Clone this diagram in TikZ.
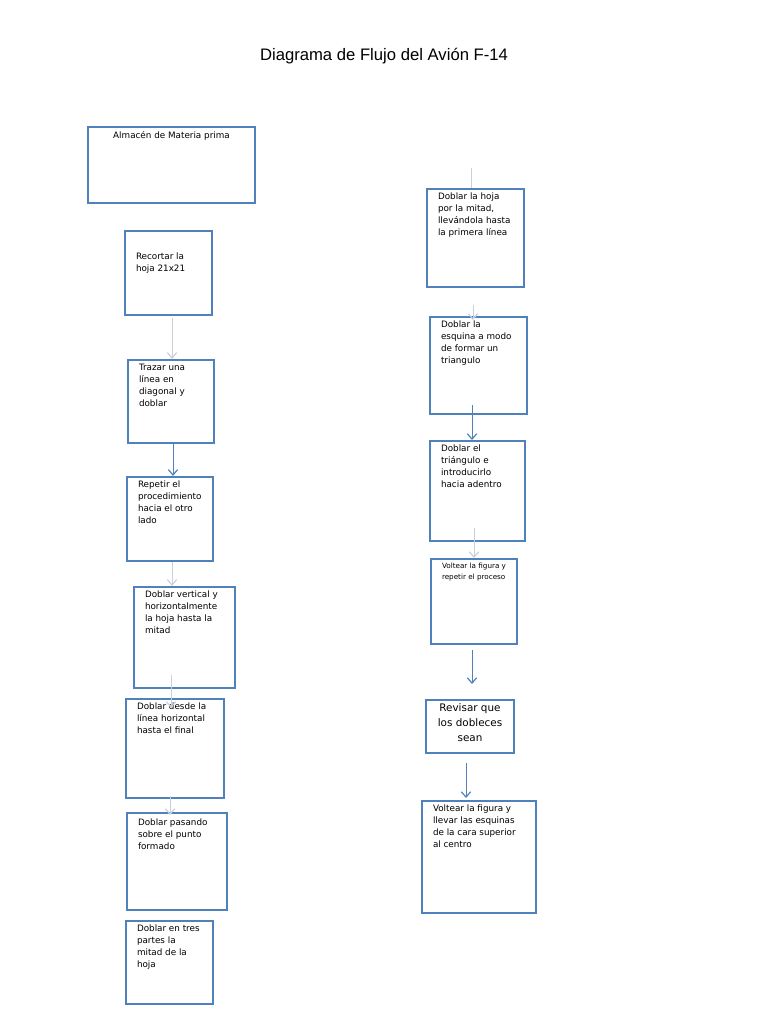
\documentclass[tikz,border=0pt]{standalone}
\usepackage{fontspec}
\setmainfont{DejaVu Sans}
\newfontfamily\titlefont{Liberation Sans}
\usetikzlibrary{arrows.meta}
\definecolor{boxblue}{HTML}{4F81BD}
\definecolor{linegray}{HTML}{C8D0DA}
\tikzset{
  box/.style={draw=boxblue, line width=1.7pt, inner sep=0pt, fill=white},
  arr/.style={draw=linegray, line width=0.6pt, -{Straight Barb[length=4pt,width=7pt,line width=0.9pt]}},
  arrb/.style={arr, draw=boxblue}
}
% name, x1, y1, x2, y2, top gap, text
\newcommand\flowbox[7]{%
  \pgfmathsetlengthmacro\bw{(#4-#2)*0.75pt}%
  \pgfmathsetlengthmacro\bh{(#5-#3)*0.75pt}%
  \pgfmathsetlengthmacro\btw{(#4-#2-22)*0.75pt}%
  \pgfmathsetlengthmacro\bth{(#5-#3-8)*0.75pt}%
  \node[box, minimum width=\bw, minimum height=\bh] (#1) at ({(#2+#4)/2},{(#3+#5)/2})
    {\parbox[c][\bth][t]{\btw}{\vspace*{#6}\raggedright\fontsize{6.6}{9}\selectfont #7}};%
}
\begin{document}
\begin{tikzpicture}[x=0.75pt,y=-0.75pt]
\useasboundingbox (0,0) rectangle (768,1024);
\node (title) at (384,56) {\titlefont\fontsize{12.5}{15}\selectfont Diagrama de Flujo del Avión F-14};

% left column
\flowbox{almacen}{88}{127}{255}{203}{0pt}{\centering Almacén de Materia prima}
\flowbox{recortar}{125}{231}{212}{315}{13pt}{Recortar la hoja 21x21}
\flowbox{trazar}{128}{360}{214}{443}{0pt}{Trazar una línea en diagonal y doblar}
\flowbox{repetir}{127}{477}{213}{561}{0pt}{Repetir el procedimiento hacia el otro lado}
\flowbox{vertical}{134}{587}{235}{688}{0pt}{Doblar vertical y horizontalmente la hoja hasta la mitad}
\flowbox{desde}{126}{699}{224}{798}{0pt}{Doblar desde la línea horizontal hasta el final}
\flowbox{pasando}{127}{813}{227}{910}{1pt}{Doblar pasando sobre el punto formado}
\flowbox{tres}{126}{921}{213}{1004}{0pt}{Doblar en tres partes la mitad de la hoja}

% right column
\flowbox{hoja}{427}{189}{524}{287}{0pt}{Doblar la hoja por la mitad, llevándola hasta la primera línea}
\flowbox{esquina}{430}{317}{527}{414}{0pt}{Doblar la esquina a modo de formar un triangulo}
\flowbox{triangulo}{430}{441}{525}{541}{0pt}{Doblar el triángulo e introducirlo hacia adentro}
\flowbox{voltear}{431}{559}{517}{644}{0pt}{\fontsize{5.4}{8}\selectfont Voltear la figura y repetir el proceso}
\flowbox{revisar}{426}{700}{514}{753}{0pt}{\centering\fontsize{7.8}{11}\selectfont Revisar que los dobleces sean}
\flowbox{llevar}{422}{801}{536}{913}{0pt}{Voltear la figura y llevar las esquinas de la cara superior al centro}

% connectors
\coordinate (c1) at (172,318);
\coordinate (c2) at (171,675);
\coordinate (c3) at (170,796);
\coordinate (c4) at (471,168);
\coordinate (c5) at (473,305);
\coordinate (c6) at (472,405);
\coordinate (c7) at (474,528);
\coordinate (c8) at (472,650);
\coordinate (c9) at (466,763);
\draw[arr] (c1) -- (c1 |- trazar.north);
\draw[arrb] (trazar.south -| 173,0) -- (repetir.north -| 173,0);
\draw[arr] (repetir.south -| 172,0) -- (vertical.north -| 172,0);
\draw[arr] (c2) -- (171,708);
\draw[arr] (c3) -- (170,815);
\draw[draw=linegray, line width=0.6pt] (c4) -- (hoja.north -| c4);
\draw[arr] (c5) -- (473,320);
\draw[arrb] (c6) -- (472,440);
\draw[arr] (c7) -- (474,558);
\draw[arrb] (c8) -- (472,684);
\draw[arrb] (c9) -- (466,798);
\end{tikzpicture}
\end{document}
